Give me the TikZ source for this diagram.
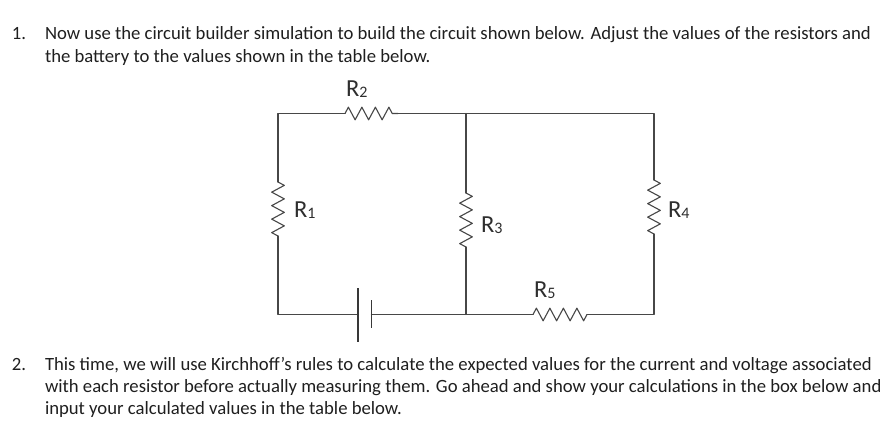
\documentclass[tikz,border=0pt]{standalone}
\usepackage{fontspec}
\setmainfont{Carlito}
\usetikzlibrary{decorations.pathmorphing}
\newcommand{\lbl}[2]{#1{\fontsize{16}{16}\selectfont\raisebox{-1.5pt}{#2}}}
\tikzset{
  x=1pt,y=-1pt,
  wire/.style={draw=black!72,line width=1.3pt,line cap=round,line join=round},
  res/.style={wire,line width=1.1pt,decorate,decoration={zigzag,segment length=13.5pt,amplitude=6.3pt,pre length=0pt,post length=0pt}},
  plate/.style={draw=black!78,line width=1.2pt},
  body/.style={anchor=base west,inner sep=0pt,outer sep=0pt,font=\fontsize{18.7}{21}\selectfont,text=black!88},
  rlabel/.style={anchor=base west,inner sep=0pt,outer sep=0pt,font=\fontsize{24.5}{26}\selectfont,text=black!82},
}
\begin{document}
\begin{tikzpicture}
\useasboundingbox (0,0) rectangle (894,428);
\fill[white] (0,0) rectangle (894,428);
% text
\node[body] (n1) at (12,40) {1.};
\node[body] (t1a) at (45,40) {Now use the circuit builder simulation to build the circuit shown below. Adjust the values of the resistors and};
\node[body] (t1b) at (45,62.5) {the battery to the values shown in the table below.};
\node[body] (n2) at (12,370) {2.};
\node[body] (t2a) at (45,370) {This time, we will use Kirchhoff’s rules to calculate the expected values for the current and voltage associated};
\node[body] (t2b) at (45,392) {with each resistor before actually measuring them. Go ahead and show your calculations in the box below and};
\node[body] (t2c) at (45,414) {input your calculated values in the table below.};
% corners and junctions
\coordinate (tl) at (278,113.5);
\coordinate (tm) at (466,113.5);
\coordinate (tr) at (654,113.5);
\coordinate (bl) at (278,314.5);
\coordinate (bm) at (466,314.5);
\coordinate (br) at (654,314.5);
% resistor ends
\coordinate (r2a) at (345,113.5); \coordinate (r2b) at (398,113.5);
\coordinate (r1a) at (278,182);   \coordinate (r1b) at (278,236);
\coordinate (r3a) at (466,193);   \coordinate (r3b) at (466,247);
\coordinate (r4a) at (654,180);   \coordinate (r4b) at (654,234);
\coordinate (r5a) at (533,314.5); \coordinate (r5b) at (587,314.5);
% battery
\coordinate (bat1) at (358,314.5);
\coordinate (bat2) at (371.5,314.5);
\coordinate (p1t) at (358,288); \coordinate (p1b) at (358,342);
\coordinate (p2t) at (371.5,300); \coordinate (p2b) at (371.5,328);
% wires
\draw[wire] (r1a) -- (tl) -- (r2a);
\draw[wire] (r2b) -- (tm) -- (tr) -- (r4a);
\draw[wire] (tm) -- (r3a);
\draw[wire] (r1b) -- (bl) -- (bat1);
\draw[wire] (bat2) -- (bm) -- (r5a);
\draw[wire] (r5b) -- (br) -- (r4b);
\draw[wire] (r3b) -- (bm);
\draw[plate] (p1t) -- (p1b);
\draw[plate] (p2t) -- (p2b);
% resistors
\draw[res] (r2a) -- (r2b);
\draw[res] (r1a) -- (r1b);
\draw[res] (r3a) -- (r3b);
\draw[res] (r4a) -- (r4b);
\draw[res] (r5a) -- (r5b);
% labels
\node[rlabel] (l2) at (346,96) {\lbl{R}{2}};
\node[rlabel] (l1) at (294,217) {\lbl{R}{1}};
\node[rlabel] (l3) at (481,232) {\lbl{R}{3}};
\node[rlabel] (l4) at (668,217) {\lbl{R}{4}};
\node[rlabel] (l5) at (534,297) {\lbl{R}{5}};
\end{tikzpicture}
\end{document}
